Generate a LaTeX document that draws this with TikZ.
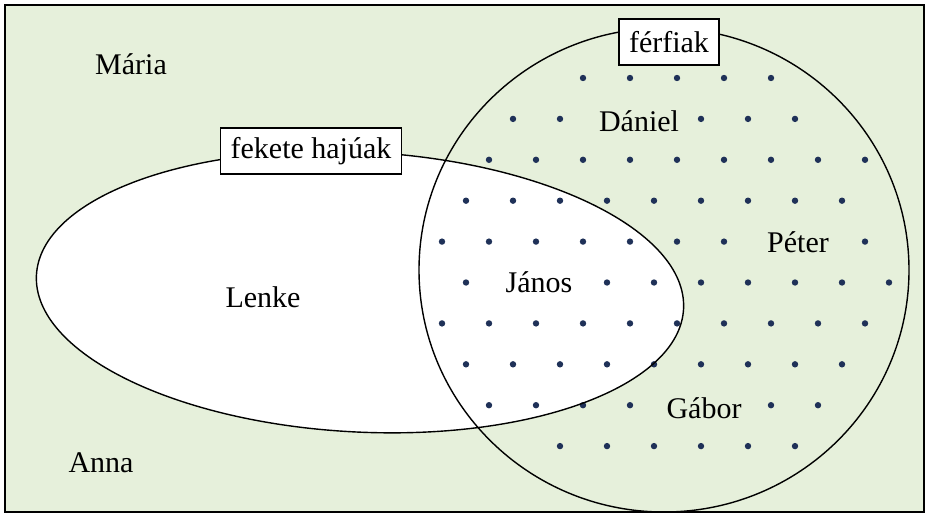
\documentclass[tikz,border=0pt]{standalone}
\usepackage{fontspec}
\setmainfont{Liberation Serif}
\begin{document}
\begin{tikzpicture}[x=1pt,y=-1pt,
  lbl/.style={font=\fontsize{30}{34}\selectfont, inner sep=3pt},
  boxlbl/.style={lbl, draw, fill=white, line width=1.4pt, minimum height=46pt, inner xsep=10pt}]
\definecolor{bggreen}{HTML}{E6F0DB}
\definecolor{dotblue}{HTML}{1F3158}
\useasboundingbox (0,0) rectangle (929,517);
\draw[fill=bggreen, line width=1.6pt] (5,5) rectangle (924,512);
\coordinate (ec) at (360,292);
\coordinate (cc) at (664,270);
\fill[white, rotate around={-3:(ec)}] (ec) ellipse [x radius=324, y radius=140];
\foreach \j in {0,...,9} {
  \pgfmathsetmacro{\yy}{78+40.9*\j}
  \pgfmathsetmacro{\xo}{mod(\j,2)==0 ? 19 : 43}
  \foreach \k in {8,...,20} {
    \pgfmathsetmacro{\xx}{\xo+47*\k}
    \pgfmathsetmacro{\dd}{((\xx-664)/232)^2+((\yy-270)/229)^2}
    \ifdim\dd pt<1pt
      \fill[dotblue] (\xx,\yy) circle (3.2);
    \fi
  }
}
\draw[line width=1.4pt, rotate around={-3:(ec)}] (ec) ellipse [x radius=324, y radius=140];
\draw[line width=1.4pt] (cc) ellipse [x radius=245, y radius=242];
\node[boxlbl] (fh) at (311,151) {fekete hajúak};
\node[boxlbl] (ff) at (669,42) {férfiak};
\node[lbl] (maria) at (131,64) {Mária};
\node[lbl] (anna) at (101,463) {Anna};
\node[lbl] (lenke) at (263,297) {Lenke};
\node[lbl, fill=white] (janos) at (539,282) {János};
\node[lbl, fill=bggreen] (daniel) at (639,121) {Dániel};
\node[lbl, fill=bggreen] (peter) at (798,242) {Péter};
\node[lbl, fill=bggreen] (gabor) at (704,408) {Gábor};
\end{tikzpicture}
\end{document}
